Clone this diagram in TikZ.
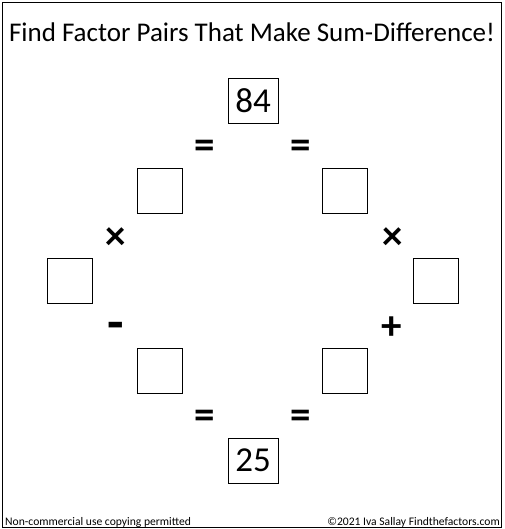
\documentclass[tikz,border=0pt]{standalone}
\usepackage{fontspec}
\setmainfont{Carlito}
\usetikzlibrary{positioning}

\tikzset{
  cell/.style={draw, line width=0.8pt, minimum width=45pt, minimum height=45pt, inner sep=0pt, font=\fontsize{35}{40}\selectfont},
  given/.style={cell, minimum width=50pt},
  op/.style={inner sep=0pt, font=\bfseries\fontsize{41}{44}\selectfont}
}

\begin{document}
\begin{tikzpicture}[x=1pt,y=-1pt]
  \useasboundingbox (0,0) rectangle (504,529);
  \draw[line width=0.8pt] (2.5,2.5) rectangle (501.5,527.5);

  \node[anchor=base, font=\fontsize{27}{30}\selectfont] (title) at (252,42) {Find Factor Pairs That Make Sum-Difference!};

  \node[given] (prod) at (253,100.5) {84};
  \node[cell] (tl) at (159.5,190.5) {};
  \node[cell] (tr) at (344.5,190.5) {};
  \node[cell] (l) at (69.5,280.5) {};
  \node[cell] (r) at (435.5,280.5) {};
  \node[cell] (bl) at (159.5,370.5) {};
  \node[cell] (br) at (344.5,370.5) {};
  \node[given] (sum) at (253,460.5) {25};

  \node[op] (eq_tl) at (205,149.5) {=};
  \node[op] (eq_tr) at (301,149.5) {=};
  \node[op] (times_l) at (115.5,239) {×};
  \node[op] (times_r) at (392.5,239) {×};
  \node[op, font=\bfseries\fontsize{54}{58}\selectfont] (minus) at (115.5,331) {-};
  \node[op] (plus) at (391.5,328) {+};
  \node[op] (eq_bl) at (205,419) {=};
  \node[op] (eq_br) at (301,419) {=};

  \node[anchor=base west, inner sep=0pt, font=\fontsize{11.6}{13}\selectfont] (note) at (5,525) {Non-commercial use copying permitted};
  \node[anchor=base east, inner sep=0pt, font=\fontsize{11.6}{13}\selectfont] (credit) at (500,525) {©2021 Iva Sallay Findthefactors.com};
\end{tikzpicture}
\end{document}
